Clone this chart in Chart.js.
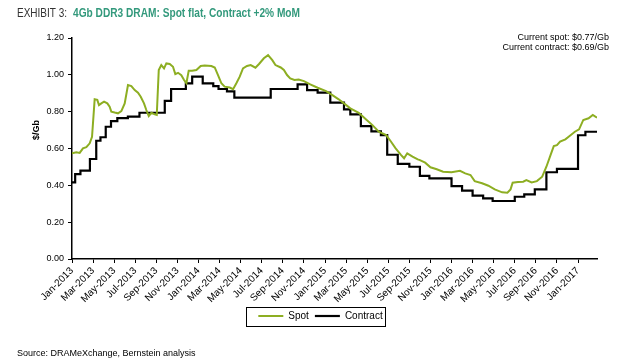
<!DOCTYPE html>
<html>
<head>
<meta charset="utf-8">
<script src="https://cdn.jsdelivr.net/npm/chart.js@4/dist/chart.umd.min.js"></script>
<style>
  html, body { margin: 0; padding: 0; background: #fff; }
  #wrap { width: 640px; height: 364px; }
</style>
</head>
<body>
<div id="wrap"><canvas id="dramChart"></canvas></div>
<script>
// x 值 = 自 2013 年 1 月起的月数
const tickLabels = [
    'Jan-2013', 'Mar-2013', 'May-2013', 'Jul-2013', 'Sep-2013', 'Nov-2013',
    'Jan-2014', 'Mar-2014', 'May-2014', 'Jul-2014', 'Sep-2014', 'Nov-2014',
    'Jan-2015', 'Mar-2015', 'May-2015', 'Jul-2015', 'Sep-2015', 'Nov-2015',
    'Jan-2016', 'Mar-2016', 'May-2016', 'Jul-2016', 'Sep-2016', 'Nov-2016',
    'Jan-2017'
];

// 现货价 (Spot)
const spotMonths = [
    0, 0.41, 0.73, 1.04, 1.36, 1.68, 1.9, 2.15, 2.4, 2.56, 2.78, 3.04, 3.35, 3.57, 3.73,
    4.05, 4.36, 4.68, 5.0, 5.31, 5.63, 5.95, 6.26, 6.52, 6.83, 7.05, 7.28, 7.53, 7.85,
    8.04, 8.23, 8.47, 8.73, 8.95, 9.27, 9.58, 9.8, 10.06, 10.37, 10.63, 10.85, 11.07,
    11.39, 11.8, 12.21, 12.59, 13.22, 13.54, 13.85, 14.17, 14.48, 14.96, 15.28, 15.59,
    15.91, 16.22, 16.6, 16.95, 17.4, 17.74, 18.2, 18.6, 19.0, 19.3, 19.8, 20.1, 20.4,
    20.7, 21.1, 21.5, 22.0, 22.6, 23.3, 24.1, 24.7, 25.3, 25.8, 26.4, 27.2, 27.9, 28.5,
    29.1, 29.8, 30.2, 30.7, 31.2, 31.5, 31.8, 32.3, 32.8, 33.0, 33.5, 34.0, 34.6, 35.2,
    36.0, 36.8, 37.3, 37.8, 38.2, 38.9, 39.5, 40.1, 40.8, 41.3, 41.6, 41.8, 42.3, 42.8,
    43.1, 43.6, 44.1, 44.6, 45.0, 45.4, 45.7, 46.0, 46.3, 46.8, 47.2, 47.7, 48.1, 48.5,
    49.0, 49.4, 49.8
];
const spotValues = [
    0.574, 0.58, 0.576, 0.601, 0.607, 0.628, 0.664, 0.867, 0.864, 0.836, 0.845, 0.854, 0.845, 0.827, 0.80,
    0.795, 0.791, 0.803, 0.845, 0.945, 0.939, 0.917, 0.903, 0.881, 0.845, 0.809, 0.776, 0.794, 0.785,
    0.782, 1.026, 1.053, 1.035, 1.062, 1.059, 1.044, 1.004, 1.011, 0.998, 0.972, 0.954, 1.022,
    1.022, 1.026, 1.048, 1.051, 1.048, 1.04, 0.998, 0.954, 0.936, 0.931, 0.922, 0.954,
    0.99, 1.035, 1.048, 1.053, 1.039, 1.059, 1.09, 1.107, 1.08, 1.053, 1.04, 1.026, 0.999,
    0.981, 0.972, 0.975, 0.966, 0.948, 0.93, 0.912, 0.89, 0.867, 0.845, 0.818, 0.794, 0.758, 0.727,
    0.691, 0.673, 0.642, 0.601, 0.565, 0.547, 0.574, 0.556, 0.541, 0.537, 0.523, 0.498, 0.487, 0.474,
    0.471, 0.479, 0.465, 0.456, 0.423, 0.411, 0.398, 0.378, 0.362, 0.36, 0.378, 0.414, 0.418, 0.42,
    0.429, 0.416, 0.423, 0.447, 0.501, 0.565, 0.613, 0.618, 0.637, 0.65, 0.668, 0.691, 0.704, 0.755,
    0.764, 0.782, 0.767
];

// 合约价 (Contract)，每个点是新价格开始的月份
const contractMonths = [
    0, 0.3, 0.8, 1.7, 2.3, 2.7, 3.2, 3.7, 4.3, 5.3, 6.4, 8.8, 9.4, 10.8, 11.4, 12.4,
    13.4, 13.9, 14.7, 15.4, 18.85, 21.4, 22.3, 23.3, 24.5, 25.8, 26.4, 27.4, 28.4,
    29.3, 29.9, 30.9, 32.0, 33.0, 33.9, 36.0, 37.0, 38.0, 39.0, 39.9, 42.0, 42.9,
    43.9, 45.0, 46.0, 48.0, 48.7, 49.8
];
const contractValues = [
    0.416, 0.461, 0.48, 0.543, 0.642, 0.661, 0.718, 0.749, 0.765, 0.773, 0.794, 0.859, 0.923, 0.954, 0.99, 0.954,
    0.939, 0.923, 0.91, 0.876, 0.923, 0.948, 0.917, 0.903, 0.849, 0.812, 0.785, 0.722, 0.693,
    0.673, 0.566, 0.516, 0.501, 0.451, 0.438, 0.396, 0.371, 0.344, 0.329, 0.315, 0.338, 0.351,
    0.378, 0.471, 0.489, 0.672, 0.691, 0.691
];

const spotColor = '#8dae22';
const textFont = '"Liberation Sans", Arial, sans-serif';

const toPoints = (xs, ys) => xs.map((x, i) => ({ x: x, y: ys[i] }));

// 标题、注释、来源、图例边框
const extrasPlugin = {
    id: 'extras',
    afterLayout(chart) {
        // 图例整体右移，对齐原图位置
        if (chart.legend) {
            chart.legend.left += 22;
            chart.legend.right += 22;
        }
    },
    afterDraw(chart) {
        const ctx = chart.ctx;
        ctx.save();

        // 标题
        ctx.textBaseline = 'alphabetic';
        ctx.textAlign = 'left';
        ctx.fillStyle = '#333';
        ctx.font = '12px ' + textFont;
        ctx.fillText('EXHIBIT 3:', 17, 17, 50);
        ctx.fillStyle = '#33997c';
        ctx.font = 'bold 12px ' + textFont;
        ctx.fillText('4Gb DDR3 DRAM: Spot flat, Contract +2% MoM', 73, 17, 227);

        // 右上角注释
        ctx.fillStyle = '#000';
        ctx.font = '9px ' + textFont;
        ctx.textAlign = 'right';
        ctx.fillText('Current spot: $0.77/Gb', 609, 40);
        ctx.fillText('Current contract: $0.69/Gb', 609, 50);

        // y 轴标题
        ctx.save();
        ctx.translate(37, 130);
        ctx.rotate(-Math.PI / 2);
        ctx.textAlign = 'center';
        ctx.textBaseline = 'middle';
        ctx.font = 'bold 9px ' + textFont;
        ctx.fillText('$/Gb', 0, 0);
        ctx.restore();

        // 来源
        ctx.textAlign = 'left';
        ctx.font = '9px ' + textFont;
        ctx.fillText('Source: DRAMeXchange, Bernstein analysis', 17, 356);

        // 图例边框
        const boxes = chart.legend.legendHitBoxes;
        if (boxes && boxes.length) {
            const left = Math.min(...boxes.map(b => b.left));
            const right = Math.max(...boxes.map(b => b.left + b.width));
            const top = boxes[0].top;
            const h = boxes[0].height;
            ctx.strokeStyle = '#000';
            ctx.lineWidth = 1;
            ctx.strokeRect(Math.round(left - 12) + 0.5, Math.round(top + h / 2 - 9.5) + 0.5,
                Math.round(right - left + 15), 19);
        }
        ctx.restore();
    }
};

Chart.defaults.font.family = textFont;
Chart.defaults.color = '#000';

new Chart(document.getElementById('dramChart').getContext('2d'), {
    type: 'line',
    data: {
        datasets: [
            {
                label: 'Spot',
                data: toPoints(spotMonths, spotValues),
                borderColor: spotColor,
                backgroundColor: spotColor,
                borderWidth: 2,
                pointRadius: 0,
                tension: 0
            },
            {
                label: 'Contract',
                data: toPoints(contractMonths, contractValues),
                borderColor: '#000',
                backgroundColor: '#000',
                borderWidth: 2.2,
                pointRadius: 0,
                stepped: 'before'
            }
        ]
    },
    options: {
        responsive: true,
        maintainAspectRatio: false,
        animation: false,
        layout: {
            padding: { top: 38, left: 0, right: 43, bottom: 33 }
        },
        plugins: {
            legend: {
                position: 'bottom',
                labels: {
                    usePointStyle: true,
                    pointStyle: 'line',
                    pointStyleWidth: 25,
                    padding: 6,
                    font: { size: 10 }
                }
            },
            tooltip: { enabled: false }
        },
        scales: {
            x: {
                type: 'linear',
                min: 0,
                max: 49.8,
                afterFit: (s) => { s.height = 46; },
                border: { color: '#000', width: 1.5 },
                grid: {
                    drawOnChartArea: false,
                    drawTicks: true,
                    tickLength: 4,
                    color: '#000'
                },
                ticks: {
                    stepSize: 2,
                    includeBounds: false,
                    autoSkip: false,
                    minRotation: 45,
                    maxRotation: 45,
                    padding: 2,
                    font: { size: 10 },
                    callback: function(value) {
                        return tickLabels[value / 2] || '';
                    }
                }
            },
            y: {
                min: 0,
                max: 1.2,
                afterFit: (s) => { s.width = 72; },
                border: { color: '#000', width: 1.5 },
                grid: {
                    drawOnChartArea: false,
                    drawTicks: true,
                    tickLength: 4,
                    color: '#000'
                },
                ticks: {
                    stepSize: 0.2,
                    padding: 4,
                    font: { size: 9 },
                    callback: function(value) {
                        return value.toFixed(2);
                    }
                }
            }
        }
    },
    plugins: [extrasPlugin]
});
</script>
</body>
</html>
